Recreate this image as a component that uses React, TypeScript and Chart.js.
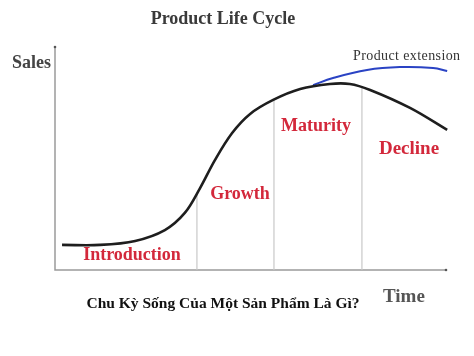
import React, { useEffect, useRef } from "react";
import { Chart, registerables } from "chart.js";

Chart.register(...registerables);

// ---- data ----
const TIME = [1.8, 11.5, 20.5, 28.1, 33.2, 37.1, 40.9, 45.3, 49.9, 55.8, 62.7, 70.3, 75.4, 80.6, 90.8, 100.3];
const SALES = [11.3, 11.3, 13.1, 18.0, 25.7, 36.9, 49.5, 61.7, 70.3, 76.6, 81.5, 83.8, 83.8, 81.1, 73.0, 63.1];
const EXT_TIME = [66.0, 71.1, 79.8, 88.2, 96.7, 100.3];
const EXT_SALES = [83.3, 86.5, 90.1, 91.4, 91.0, 89.6];
const PHASE_BOUNDS = [36.3, 56.0, 78.5];
const PHASE_TOPS = [34.3, 76.8, 82.0];
const PHASE_NAMES = ["Introduction", "Growth", "Maturity", "Decline"];
const TITLE = "Product Life Cycle";
const Y_LABEL = "Sales";
const X_LABEL = "Time";
const EXT_LABEL = "Product extension";
const CAPTION = "Chu Kỳ Sống Của Một Sản Phẩm Là Gì?";

const SERIF = '"Liberation Serif", "DejaVu Serif", serif';

const overlay = {
  id: "overlay",
  beforeDatasetsDraw(chart: any) {
    const { ctx, chartArea: a } = chart;
    ctx.save();
    ctx.strokeStyle = "#9a9a9a";
    ctx.lineWidth = 1.5;
    ctx.beginPath();
    ctx.moveTo(a.left, a.top - 1);
    ctx.lineTo(a.left, a.bottom);
    ctx.lineTo(a.right, a.bottom);
    ctx.stroke();
    ctx.fillStyle = "#555";
    ctx.beginPath();
    ctx.arc(a.left, a.top - 1, 1.3, 0, Math.PI * 2);
    ctx.fill();
    ctx.beginPath();
    ctx.arc(a.right, a.bottom, 1.3, 0, Math.PI * 2);
    ctx.fill();
    ctx.restore();
  },
  afterDraw(chart: any) {
    const { ctx } = chart;
    ctx.save();
    ctx.textBaseline = "middle";
    ctx.textAlign = "center";
    // title
    ctx.fillStyle = "#3a3a3a";
    ctx.font = `bold 18px ${SERIF}`;
    ctx.fillText(TITLE, 223, 19);
    // axis labels
    ctx.textAlign = "left";
    ctx.fillStyle = "#444";
    ctx.font = `bold 18px ${SERIF}`;
    ctx.fillText(Y_LABEL, 12, 63);
    ctx.fillStyle = "#555";
    ctx.font = `bold 19px ${SERIF}`;
    ctx.fillText(X_LABEL, 383, 297);
    // extension label
    ctx.fillStyle = "#333";
    ctx.font = `14px ${SERIF}`;
    (ctx as any).letterSpacing = "0.4px";
    ctx.fillText(EXT_LABEL, 353, 56);
    (ctx as any).letterSpacing = "0px";
    // phase labels
    ctx.fillStyle = "#d3283b";
    ctx.textAlign = "center";
    const pos = [
      [132, 255],
      [240, 194],
      [316, 126],
      [409, 149],
    ];
    const sizes = [18, 18, 18, 19];
    PHASE_NAMES.forEach((n, i) => {
      ctx.font = `bold ${sizes[i]}px ${SERIF}`;
      ctx.fillText(n, pos[i][0], pos[i][1]);
    });
    // caption
    ctx.fillStyle = "#111";
    ctx.font = `bold 15.5px ${SERIF}`;
    ctx.fillText(CAPTION, 223, 304);
    ctx.restore();
  },
};

export default function App() {
  const ref = useRef<HTMLCanvasElement>(null);
  useEffect(() => {
    document.body.style.margin = "0";
    const dividers = PHASE_BOUNDS.map((x, i) => ({
      data: [
        { x, y: 0 },
        { x, y: PHASE_TOPS[i] },
      ],
      borderColor: "#c8c8c8",
      borderWidth: 1.2,
      pointRadius: 0,
      tension: 0,
      clip: false as any,
      order: 3,
    }));
    const chart = new Chart(ref.current!, {
      type: "line",
      data: {
        datasets: [
          {
            data: TIME.map((x, i) => ({ x, y: SALES[i] })),
            borderColor: "#1e1e1e",
            borderWidth: 2.6,
            pointRadius: 0,
            tension: 0.35,
            clip: false as any,
            order: 1,
          },
          {
            data: EXT_TIME.map((x, i) => ({ x, y: EXT_SALES[i] })),
            borderColor: "#2a43c4",
            borderWidth: 2,
            pointRadius: 0,
            tension: 0.4,
            clip: false as any,
            order: 2,
          },
          ...dividers,
        ] as any,
      },
      options: {
        animation: false,
        responsive: false,
        layout: { padding: { left: 55, right: 28, top: 48, bottom: 86 } },
        scales: {
          x: { type: "linear", min: 0, max: 100, display: false },
          y: { type: "linear", min: 0, max: 100, display: false },
        },
        plugins: { legend: { display: false }, tooltip: { enabled: false }, title: { display: false } },
      },
      plugins: [overlay],
    });
    return () => chart.destroy();
  }, []);
  return (
    <div style={{ width: 474, height: 356, background: "#fff" }}>
      <canvas ref={ref} width={474} height={356} />
    </div>
  );
}
